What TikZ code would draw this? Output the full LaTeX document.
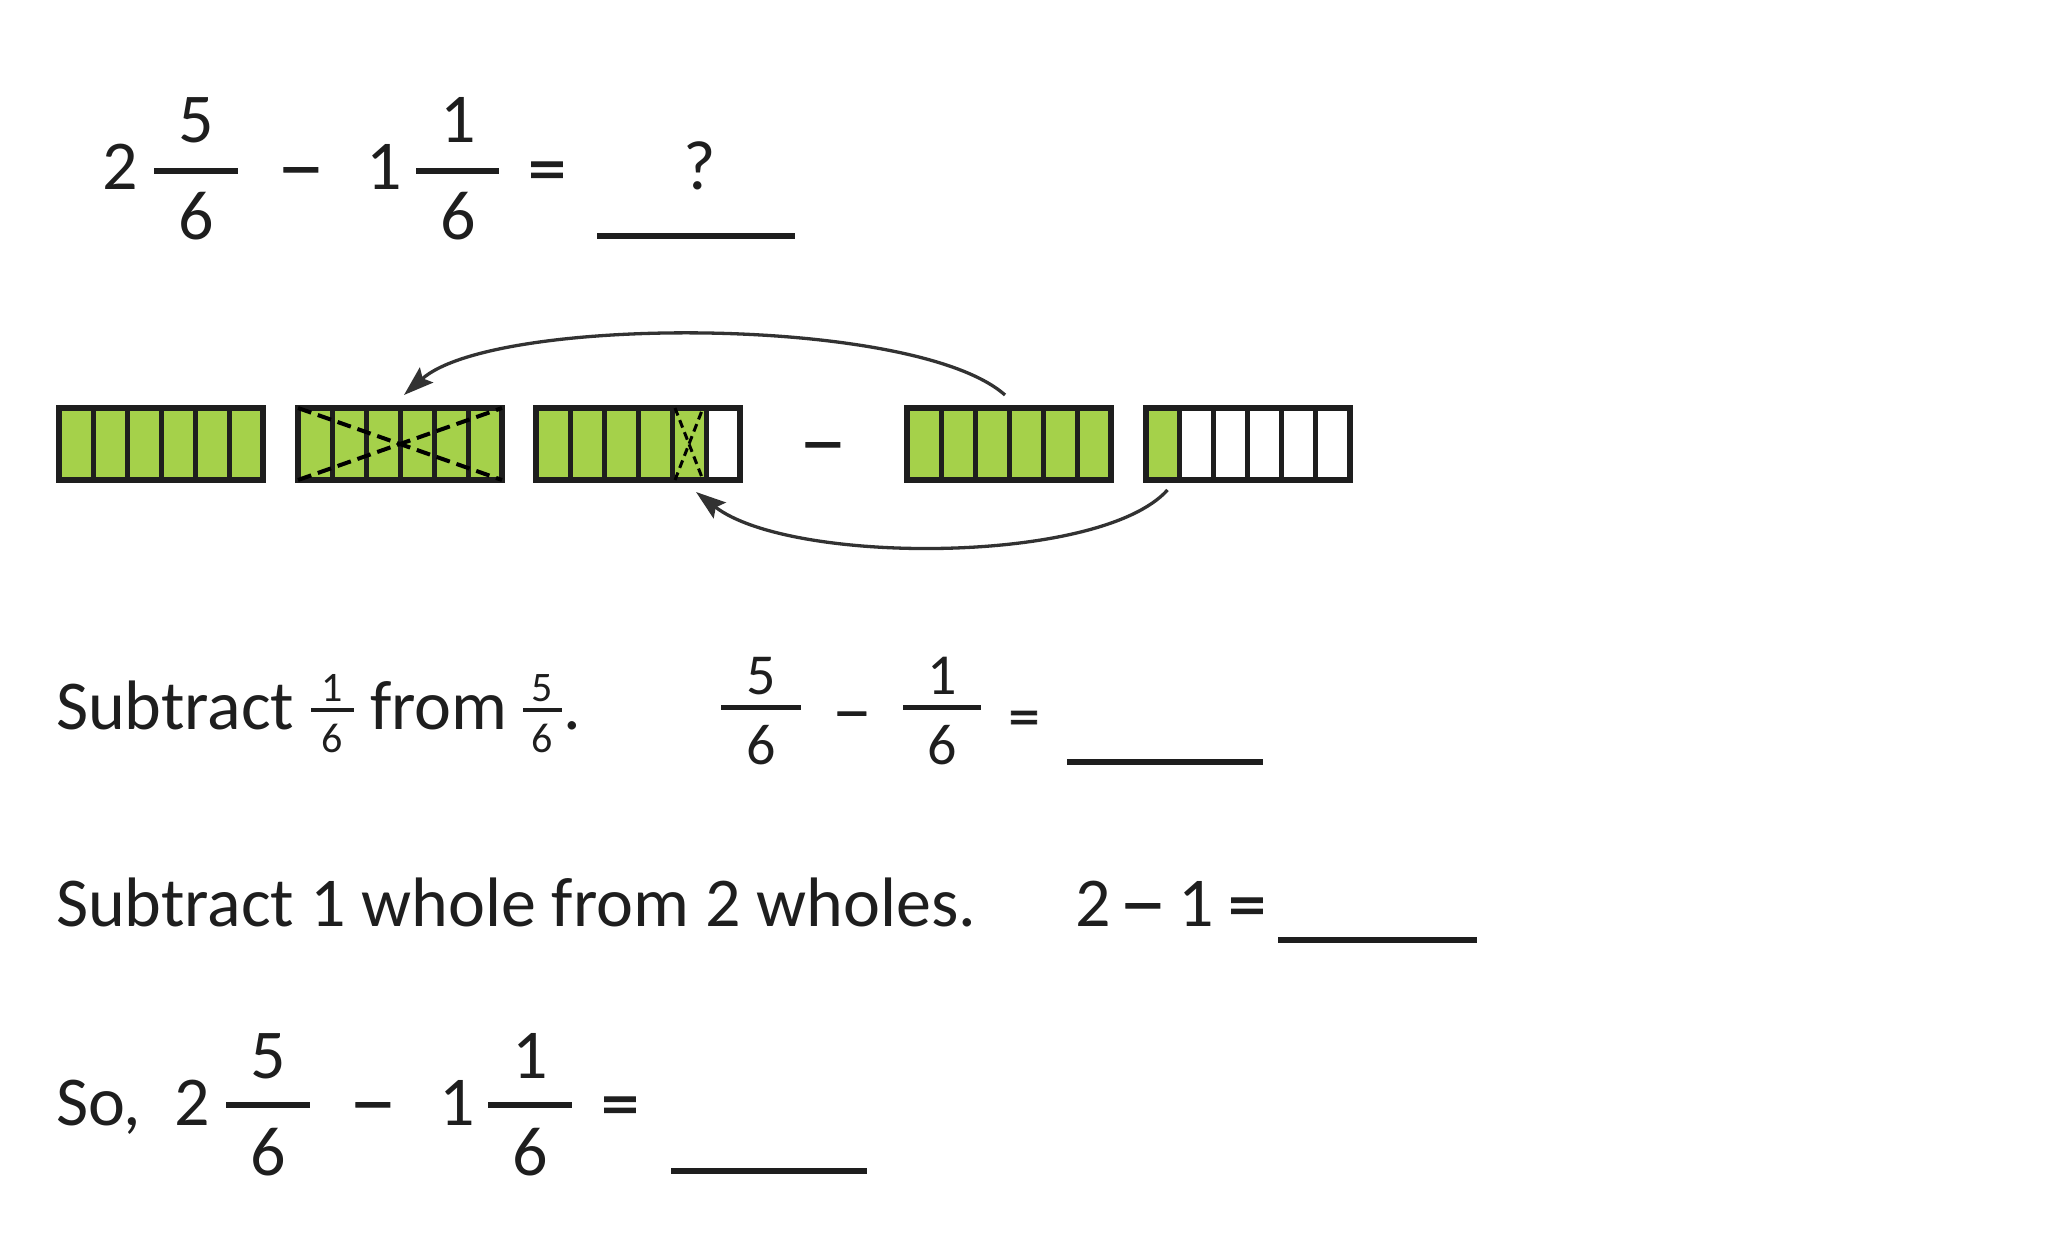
\documentclass[tikz,border=0pt]{standalone}
\usepackage{fontspec}
\setmainfont{Carlito}
\newfontfamily\opfont[FakeStretch=1.3,FakeBold=1.5]{Carlito}
\newfontfamily\eqfont[FakeStretch=1.08,FakeBold=1.5]{Carlito}
\usetikzlibrary{calc,arrows.meta}
\definecolor{bargreen}{RGB}{165,209,74}
\definecolor{arrowgray}{RGB}{50,50,50}
\definecolor{ink}{RGB}{30,30,30}
\begin{document}
\begin{tikzpicture}[x=1pt,y=-1pt,
  txt/.style={inner sep=0pt,outer sep=0pt,text=ink},
  big/.style={txt,font=\fontsize{70}{84}\selectfont},
  bigop/.style={txt,font=\opfont\fontsize{70}{84}\selectfont},
  bigeq/.style={txt,font=\eqfont\fontsize{70}{84}\selectfont},
  mid/.style={txt,font=\fontsize{58}{70}\selectfont},
  midop/.style={txt,font=\opfont\fontsize{58}{70}\selectfont},
  mideq/.style={txt,font=\eqfont\fontsize{58}{70}\selectfont},
  tiny/.style={txt,font=\fontsize{42}{50}\selectfont},
  fracbar/.style={draw=ink,line width=6pt},
  thinbar/.style={draw=ink,line width=4pt},
  answerline/.style={draw=ink,line width=6pt},
  barbox/.style={draw=ink,fill=white,line width=6pt,minimum width=204pt,minimum height=72pt,inner sep=0pt,outer sep=0pt},
  cellfill/.style={fill=bargreen},
  divider/.style={draw=ink,line width=5pt},
  border/.style={draw=ink,line width=6pt},
  crossbig/.style={draw=black,line width=4pt,dash pattern=on 14pt off 7pt},
  crosssmall/.style={draw=black,line width=3pt,dash pattern=on 8pt off 5pt},
  arrowline/.style={draw=arrowgray,line width=3.3pt,-{Stealth[length=30pt,width=20pt,inset=5pt]}}
]
\useasboundingbox (0,0) rectangle (2048,1249);

% ---------- top equation ----------
\node[big,anchor=base west] (e2) at (102,190) {2};
\node[big,anchor=base] (e5n) at (196,143) {5};
\node[big,anchor=base] (e5d) at (196,240) {6};
\coordinate (f1a) at (154,171); \coordinate (f1b) at (238,171);
\draw[fracbar] (f1a) -- (f1b);
\node[bigop,anchor=base] (em) at (301,192) {−};
\node[big,anchor=base] (e1) at (384,190) {1};
\node[big,anchor=base] (e1n) at (458,143) {1};
\node[big,anchor=base] (e1d) at (458,240) {6};
\coordinate (f2a) at (416,171); \coordinate (f2b) at (499,171);
\draw[fracbar] (f2a) -- (f2b);
\node[bigeq,anchor=base] (eeq) at (547,192) {=};
\node[big,anchor=base] (eq) at (700,190) {?};
\coordinate (u1a) at (597,236); \coordinate (u1b) at (795,236);
\draw[answerline] (u1a) -- (u1b);

% ---------- bar models ----------
\node[barbox] (b1) at (161,444) {};
\node[barbox] (b2) at (400,444) {};
\node[barbox] (b3) at (638,444) {};
\node[barbox] (b4) at (1009,444) {};
\node[barbox] (b5) at (1247.5,444) {};
\foreach \b/\g in {b1/6,b2/6,b3/5,b4/6,b5/1} {
  \foreach \k in {1,...,\g} {
    \fill[cellfill] ($(\b.north west)+({(\k-1)*34},0)$) rectangle ($(\b.south west)+({\k*34},0)$);
  }
  \foreach \k in {1,...,5} {
    \draw[divider] ($(\b.north west)+({\k*34},0)$) -- ($(\b.south west)+({\k*34},0)$);
  }
  \draw[border] (\b.north west) rectangle (\b.south east);
}
\draw[crossbig] (b2.north west) -- (b2.south east);
\draw[crossbig] (b2.south west) -- (b2.north east);
\draw[crosssmall] ($(b3.north west)+(139,0)$) -- ($(b3.south west)+(167,0)$);
\draw[crosssmall] ($(b3.south west)+(139,0)$) -- ($(b3.north west)+(167,0)$);
\node[bigop,anchor=base] (bm) at (823,467) {−};

\draw[arrowline] ([xshift=-4pt,yshift=13pt]b4.north) .. controls (915,315) and (494,315) .. ([xshift=4pt,yshift=13pt]b2.north);
\draw[arrowline] ([xshift=-80pt,yshift=-10pt]b5.south) .. controls (1100,565) and (790,565) .. ([xshift=58pt,yshift=-12pt]b3.south);

% ---------- row 3 ----------
\node[big,anchor=base west] (r3a) at (56,729) {Subtract};
\node[tiny,anchor=base] (r3n1) at (332,701) {1};
\node[tiny,anchor=base] (r3d1) at (332,752) {6};
\coordinate (s1a) at (311,710); \coordinate (s1b) at (354,710);
\draw[thinbar] (s1a) -- (s1b);
\node[big,anchor=base west] (r3b) at (370,729) {from};
\node[tiny,anchor=base] (r3n2) at (542,701) {5};
\node[tiny,anchor=base] (r3d2) at (542,752) {6};
\coordinate (s2a) at (523,710); \coordinate (s2b) at (562,710);
\draw[thinbar] (s2a) -- (s2b);
\node[big,anchor=base west] (r3c) at (563,729) {.};

\node[mid,anchor=base] (r3fn1) at (761,694) {5};
\node[mid,anchor=base] (r3fd1) at (761,764) {6};
\coordinate (g1a) at (721,707); \coordinate (g1b) at (801,707);
\draw[fracbar,line width=5pt] (g1a) -- (g1b);
\node[midop,anchor=base] (r3m) at (852,732) {−};
\node[mid,anchor=base] (r3fn2) at (942,694) {1};
\node[mid,anchor=base] (r3fd2) at (942,764) {6};
\coordinate (g2a) at (903,707); \coordinate (g2b) at (981,707);
\draw[fracbar,line width=5pt] (g2a) -- (g2b);
\node[mideq,anchor=base] (r3eq) at (1024,736) {=};
\coordinate (u3a) at (1067,762); \coordinate (u3b) at (1263,762);
\draw[answerline] (u3a) -- (u3b);

% ---------- row 4 ----------
\node[big,anchor=base west] (r4a) at (56,926) {Subtract 1 whole from 2 wholes.};
\node[big,anchor=base] (r42) at (1093,926) {2};
\node[bigop,anchor=base] (r4m) at (1143,928) {−};
\node[big,anchor=base] (r41) at (1196,926) {1};
\node[bigeq,anchor=base] (r4eq) at (1247,928) {=};
\coordinate (u4a) at (1278,940); \coordinate (u4b) at (1477,940);
\draw[answerline] (u4a) -- (u4b);

% ---------- row 5 ----------
\node[big,anchor=base west] (r5a) at (56,1125) {So,};
\node[big,anchor=base] (r52) at (192,1125) {2};
\node[big,anchor=base] (r55) at (268,1078) {5};
\node[big,anchor=base] (r56) at (268,1175) {6};
\coordinate (h1a) at (226,1105); \coordinate (h1b) at (310,1105);
\draw[fracbar] (h1a) -- (h1b);
\node[bigop,anchor=base] (r5m) at (373,1127) {−};
\node[big,anchor=base] (r51) at (457,1125) {1};
\node[big,anchor=base] (r51n) at (530,1078) {1};
\node[big,anchor=base] (r51d) at (530,1175) {6};
\coordinate (h2a) at (488,1105); \coordinate (h2b) at (572,1105);
\draw[fracbar] (h2a) -- (h2b);
\node[bigeq,anchor=base] (r5eq) at (620,1127) {=};
\coordinate (u5a) at (671,1171); \coordinate (u5b) at (867,1171);
\draw[answerline] (u5a) -- (u5b);
\end{tikzpicture}
\end{document}
